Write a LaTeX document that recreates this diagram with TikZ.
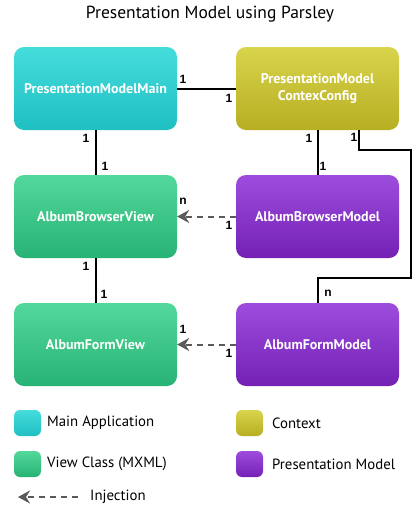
\documentclass[tikz,border=0pt]{standalone}
\usepackage{fontspec}
\setmainfont{PT Sans}
\newfontfamily\numfont{Liberation Sans}
\usetikzlibrary{arrows.meta}
\definecolor{cyanT}{HTML}{45DCDC}
\definecolor{cyanB}{HTML}{1FBFC2}
\definecolor{oliveT}{HTML}{D8D44C}
\definecolor{oliveB}{HTML}{B7AE22}
\definecolor{greenT}{HTML}{52D89A}
\definecolor{greenB}{HTML}{27B375}
\definecolor{purpT}{HTML}{9D4DDD}
\definecolor{purpB}{HTML}{7420B5}
\definecolor{injgray}{HTML}{5A5A5A}
\tikzset{
  box/.style={rounded corners=10pt, minimum width=163pt, minimum height=83pt, inner sep=0pt,
    text=white, font=\bfseries\fontsize{14}{16}\selectfont, align=center},
  mainbox/.style={box, top color=cyanT, bottom color=cyanB},
  ctxbox/.style={box, top color=oliveT, bottom color=oliveB},
  viewbox/.style={box, top color=greenT, bottom color=greenB},
  pmbox/.style={box, top color=purpT, bottom color=purpB},
  legsq/.style={rounded corners=6pt, minimum width=27pt, minimum height=26pt, inner sep=0pt},
  conn/.style={line width=2pt, black},
  inj/.style={line width=2pt, injgray, dash pattern=on 6pt off 5pt, -{Stealth[length=12pt,width=13pt,inset=4pt]}},
  mult/.style={font=\numfont\bfseries\fontsize{12}{14}\selectfont, inner sep=0pt},
  legtxt/.style={anchor=west, font=\fontsize{14.8}{17}\selectfont, inner sep=0pt}
}
\begin{document}
\begin{tikzpicture}[x=1pt,y=-1pt]
\useasboundingbox (0,0) rectangle (420,512);
\node[font=\fontsize{17.5}{20}\selectfont] (title) at (210,14) {Presentation Model using Parsley};

\node[mainbox] (main) at (95.5,88.5) {PresentationModelMain};
\node[ctxbox] (ctx) at (317.5,88.5) {PresentationModel\\[1pt]ContexConfig};
\node[viewbox] (abv) at (95.5,216.5) {AlbumBrowserView};
\node[pmbox] (abm) at (317.5,216.5) {AlbumBrowserModel};
\node[viewbox] (afv) at (95.5,344.5) {AlbumFormView};
\node[pmbox] (afm) at (317.5,344.5) {AlbumFormModel};

\coordinate (k1) at (411,150);
\coordinate (k2) at (411,278);

\draw[conn] (main) -- (ctx);
\draw[conn] (main) -- (abv);
\draw[conn] (ctx) -- (abm);
\draw[conn] (abv) -- (afv);
\draw[conn] ([xshift=41.5pt]ctx.south) |- (k1) -- (k2) -| (afm.north);
\draw[inj] (abm) -- (abv);
\draw[inj] (afm) -- (afv);

\node[mult] (m1) at (183,79) {1};
\node[mult] (m2) at (229,98) {1};
\node[mult] (m3) at (86,138) {1};
\node[mult] (m4) at (105,166) {1};
\node[mult] (m5) at (309,138) {1};
\node[mult] (m6) at (323,166) {1};
\node[mult] (m7) at (354,137) {1};
\node[mult] (m8) at (328,293) {n};
\node[mult] (m9) at (183,201) {n};
\node[mult] (m10) at (229,225) {1};
\node[mult] (m11) at (86,266) {1};
\node[mult] (m12) at (104,294) {1};
\node[mult] (m13) at (183,329) {1};
\node[mult] (m14) at (229,353) {1};

\node[legsq, top color=cyanT, bottom color=cyanB] (l1) at (27.5,423) {};
\node[legtxt] (t1) at (47,423) {Main Application};
\node[legsq, top color=oliveT, bottom color=oliveB] (l2) at (249.5,423) {};
\node[legtxt] (t2) at (272,423) {Context};
\node[legsq, top color=greenT, bottom color=greenB] (l3) at (27.5,464) {};
\node[legtxt] (t3) at (47,464) {View Class (MXML)};
\node[legsq, top color=purpT, bottom color=purpB] (l4) at (249.5,464) {};
\node[legtxt] (t4) at (272,464) {Presentation Model};
\coordinate (ia) at (78,497);
\coordinate (ib) at (18,497);
\draw[inj] (ia) -- (ib);
\node[legtxt] (t5) at (90,497) {Injection};
\end{tikzpicture}
\end{document}
